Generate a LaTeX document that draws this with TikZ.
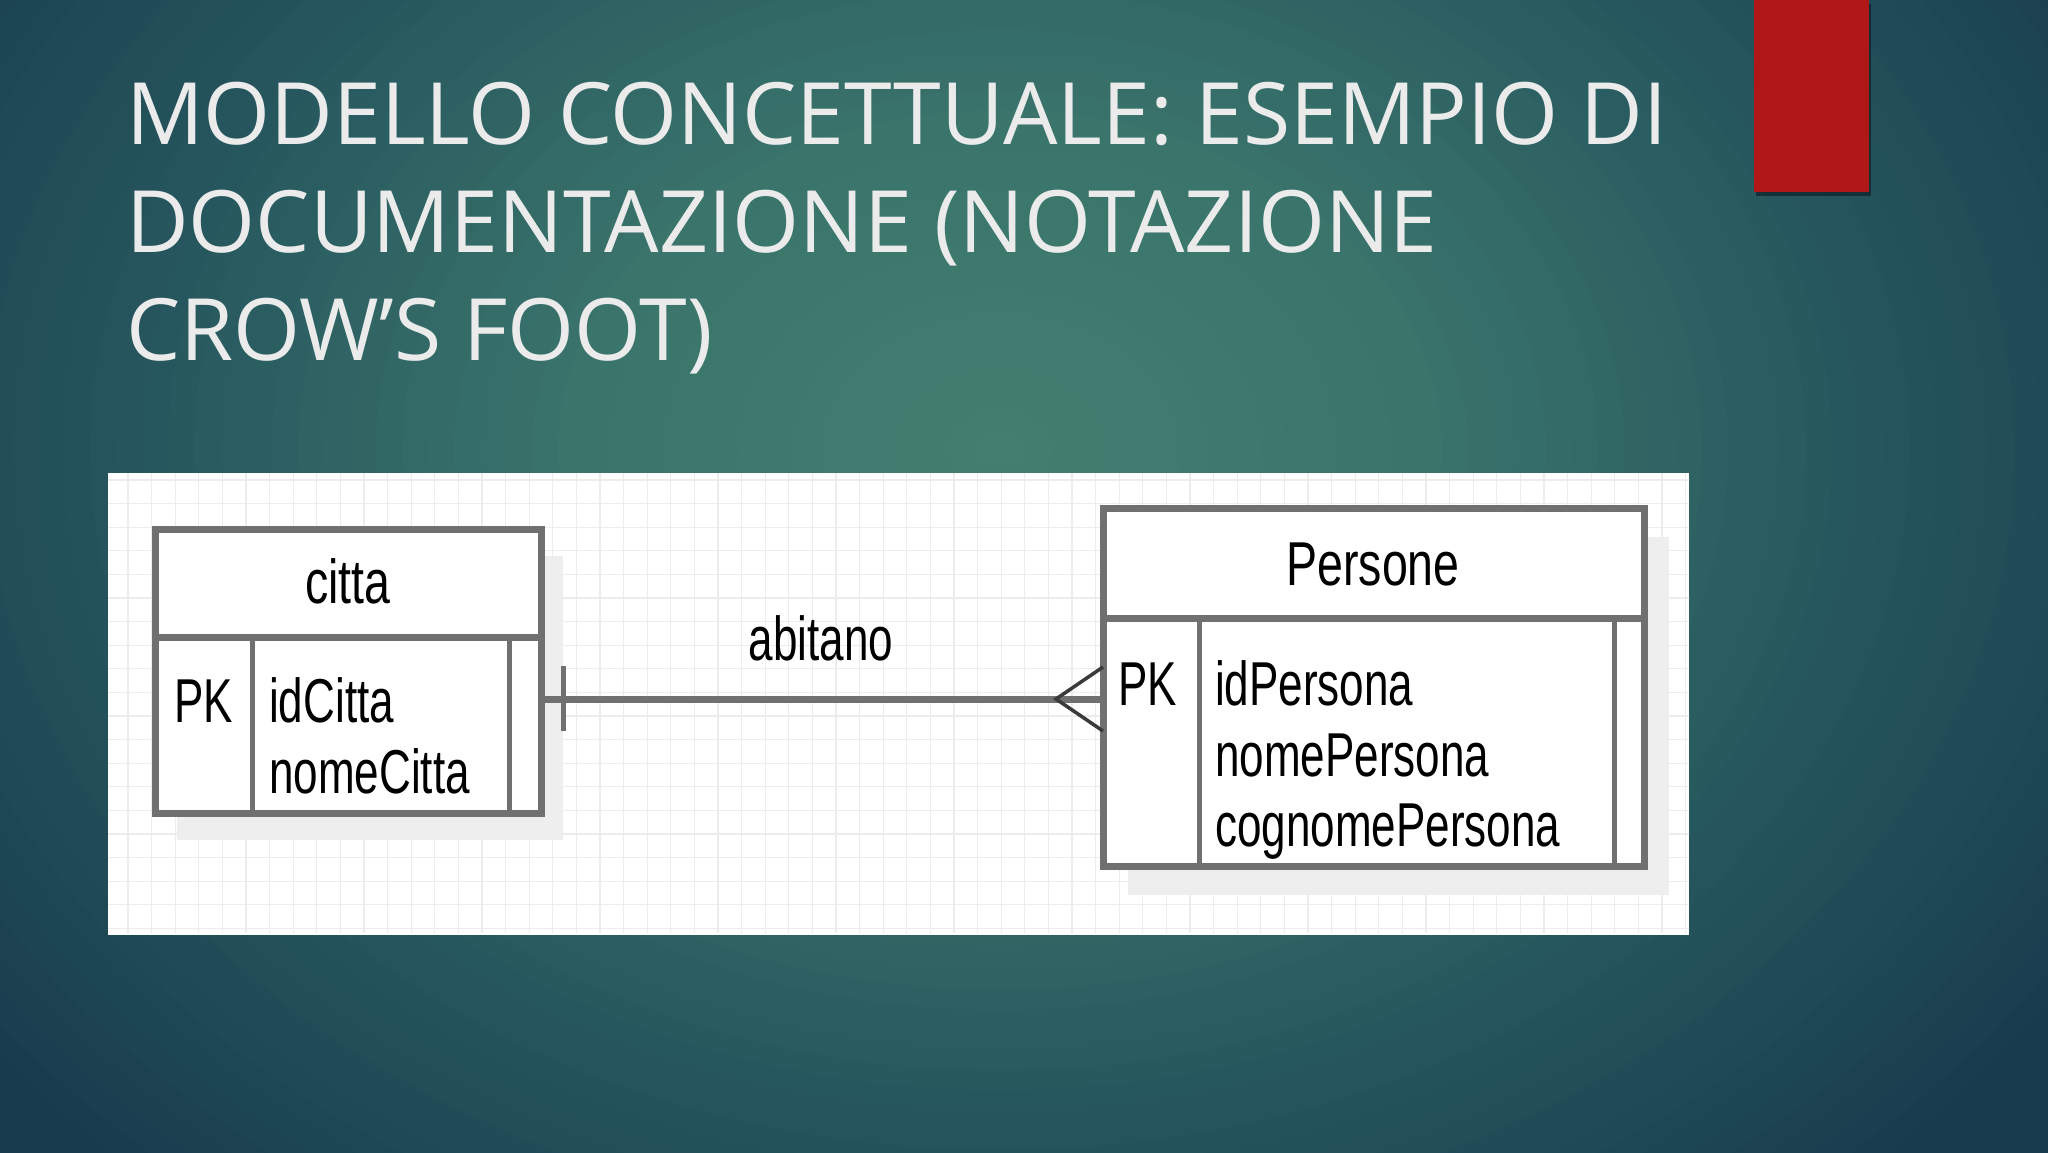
\documentclass[tikz,border=0pt]{standalone}
\usepackage{fontspec}
\setmainfont{Open Sans}
\newfontfamily\erfont{Liberation Sans}
\usetikzlibrary{calc}
\definecolor{bgc}{HTML}{427F70}
\definecolor{bgl}{HTML}{3A746B}
\definecolor{bgm}{HTML}{28595F}
\definecolor{bgd}{HTML}{183C4E}
\definecolor{ergray}{HTML}{707070}
\definecolor{crowgray}{HTML}{3A3A3A}
\definecolor{redbar}{HTML}{B01818}
\definecolor{titlec}{HTML}{EBEBEB}
\definecolor{shadowc}{HTML}{EEEEEE}
\definecolor{gridc}{HTML}{ECECEC}
\newcommand{\nar}[1]{\scalebox{0.71}[1]{#1}}
\newcommand{\hnar}[1]{\scalebox{0.75}[1]{#1}}
\tikzset{
  titletext/.style={font=\fontsize{86}{86}\selectfont, text=titlec, inner sep=0pt, anchor=base west},
  ertext/.style={font=\erfont\fontsize{62}{62}\selectfont, text=black, inner sep=0pt, anchor=base west},
  erhead/.style={font=\erfont\fontsize{62}{62}\selectfont, text=black, inner sep=0pt, anchor=base},
  entbox/.style={draw=ergray, line width=7pt, fill=white, anchor=north west, inner sep=0pt, outer sep=0pt},
  erline/.style={draw=ergray, line width=7pt},
  innerline/.style={draw=ergray, line width=5pt},
  relline/.style={draw=ergray, line width=7pt},
  crowline/.style={draw=crowgray, line width=3.5pt},
  barline/.style={draw=ergray, line width=5pt}
}
\begin{document}
\begin{tikzpicture}[x=1pt,y=-1pt]
\useasboundingbox (0,0) rectangle (2048,1152);
% background
\begin{scope}
\clip (-10,-10) rectangle (2058,1162);
\fill[bgd] (-10,-10) rectangle (2058,1162);
\begin{scope}[shift={(1000,450)}, xscale=1.3]
\foreach \r in {1000,980,...,640}{
  \pgfmathtruncatemacro{\p}{(1000-\r)/360*100}
  \fill[bgm!\p!bgd] (0,0) circle (\r);
}
\foreach \r in {620,600,...,340}{
  \pgfmathtruncatemacro{\p}{(640-\r)/300*100}
  \fill[bgl!\p!bgm] (0,0) circle (\r);
}
\foreach \r in {320,300,...,20}{
  \pgfmathtruncatemacro{\p}{(340-\r)/320*100}
  \fill[bgc!\p!bgl] (0,0) circle (\r);
}
\end{scope}
\end{scope}
% red bar
\fill[black!60!bgd, opacity=0.6] (1756,4) rectangle (1871,196);
\fill[redbar] (1754,-2) rectangle (1869,192);
% title
\node[titletext] (t1) at (126,144) {MODELLO CONCETTUALE: ESEMPIO DI};
\node[titletext] (t2) at (126,252) {DOCUMENTAZIONE (NOTAZIONE};
\node[titletext] (t3) at (126,360) {CROW’S FOOT)};
% white panel with grid
\fill[white] (108,473) rectangle (1689,935);
\begin{scope}
\clip (108,473) rectangle (1689,932);
\draw[gridc, line width=1.2pt, xshift=10pt, yshift=-8pt] (80,460) grid[step=23.6pt] (1700,950);
\end{scope}
% shadows
\fill[shadowc] (177,556) rectangle (563,840);
\fill[shadowc] (1128,537) rectangle (1669,895);
% citta entity
\node[entbox, minimum width=386pt, minimum height=284pt] (citta) at (155,529) {};
\draw[erline] (155,637) -- (541,637);
\draw[innerline] (252,637) -- (252,813);
\draw[innerline] (509,637) -- (509,813);
\node[erhead] (cittah) at (348,603) {\hnar{citta}};
\node[ertext] (cittapk) at (174,722) {\nar{PK}};
\node[ertext] (cittaa1) at (269,722) {\nar{idCitta}};
\node[ertext] (cittaa2) at (269,793) {\nar{nomeCitta}};
% Persone entity
\node[entbox, minimum width=541pt, minimum height=358pt] (pers) at (1103,508) {};
\draw[erline] (1103,618) -- (1644,618);
\draw[innerline] (1199,618) -- (1199,866);
\draw[innerline] (1614,618) -- (1614,866);
\node[erhead] (persh) at (1373,585) {\hnar{Persone}};
\node[ertext] (perspk) at (1118,705) {\nar{PK}};
\node[ertext] (persa1) at (1215,705) {\nar{idPersona}};
\node[ertext] (persa2) at (1215,776) {\nar{nomePersona}};
\node[ertext] (persa3) at (1215,846) {\nar{cognomePersona}};
% relationship
\coordinate (rely) at (0,699);
\draw[relline] (citta.east |- rely) -- (pers.west |- rely);
\draw[barline] ($(citta.east |- rely)+(22,-33)$) -- ($(citta.east |- rely)+(22,32)$);
\coordinate (crowtip) at ($(pers.west |- rely)+(-47,0)$);
\draw[crowline] ($(pers.west |- rely)+(0,-32)$) -- (crowtip) -- ($(pers.west |- rely)+(0,32)$);
\node[ertext, anchor=base] (rel) at (821,660) {\nar{abitano}};
\end{tikzpicture}
\end{document}
